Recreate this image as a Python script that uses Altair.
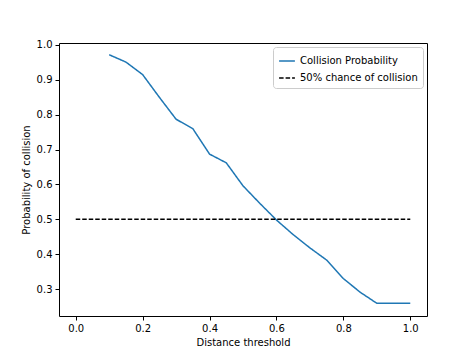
import altair as alt
import pandas as pd

thresholds = [0.1, 0.15, 0.2, 0.25, 0.3, 0.35, 0.4, 0.45, 0.5, 0.55, 0.6,
              0.65, 0.7, 0.75, 0.8, 0.85, 0.9, 0.95, 1.0]
probabilities = [0.972, 0.951, 0.915, 0.850, 0.787, 0.760, 0.687, 0.662, 0.596,
                 0.546, 0.498, 0.456, 0.418, 0.383, 0.330, 0.291, 0.259, 0.259, 0.259]
ref_x = [0.0, 1.0]
ref_y = [0.5, 0.5]
series_names = ["Collision Probability", "50% chance of collision"]

rows = [{"x": x, "y": y, "series": series_names[0], "o": i}
        for i, (x, y) in enumerate(zip(thresholds, probabilities))]
rows += [{"x": x, "y": y, "series": series_names[1], "o": i}
         for i, (x, y) in enumerate(zip(ref_x, ref_y))]
df = pd.DataFrame(rows)

font = "DejaVu Sans"

chart = alt.Chart(df).mark_line(strokeWidth=1.5).encode(
    x=alt.X("x:Q", scale=alt.Scale(domain=[-0.05, 1.05], nice=False, zero=False),
            axis=alt.Axis(values=[0, 0.2, 0.4, 0.6, 0.8, 1.0], format=".1f",
                          title="Distance threshold")),
    y=alt.Y("y:Q", scale=alt.Scale(domain=[0.2226, 1.0057], nice=False, zero=False),
            axis=alt.Axis(values=[0.3, 0.4, 0.5, 0.6, 0.7, 0.8, 0.9, 1.0], format=".1f",
                          title="Probability of collision")),
    color=alt.Color("series:N",
                    scale=alt.Scale(domain=series_names, range=["#1f77b4", "#000000"]),
                    legend=alt.Legend(title=None)),
    strokeDash=alt.StrokeDash("series:N",
                              scale=alt.Scale(domain=series_names, range=[[1, 0], [4.5, 2]]),
                              legend=alt.Legend(title=None)),
    order="o:Q",
).properties(
    width=368, height=273,
    autosize=alt.AutoSizeParams(type="none"),
    padding={"left": 51, "top": 35, "right": 39, "bottom": 30},
).configure_view(
    stroke="black", strokeWidth=1
).configure_axis(
    grid=False, domain=False, tickColor="black", tickSize=4, tickWidth=1,
    labelFont=font, labelFontSize=10, labelColor="black",
    titleFont=font, titleFontSize=10, titleColor="black", titleFontWeight="normal",
    labelPadding=3,
).configure_axisX(
    titlePadding=4
).configure_axisY(
    titlePadding=5
).configure_legend(
    orient="top-right", offset=4, fillColor="white", strokeColor="#cccccc",
    cornerRadius=3, padding=5, labelFont=font, labelFontSize=10, labelColor="black",
    symbolType="stroke", symbolSize=250, symbolStrokeWidth=1.5, rowPadding=3,
    labelLimit=300,
)

chart.save("out.html", embed_options={"renderer": "svg", "actions": False})
